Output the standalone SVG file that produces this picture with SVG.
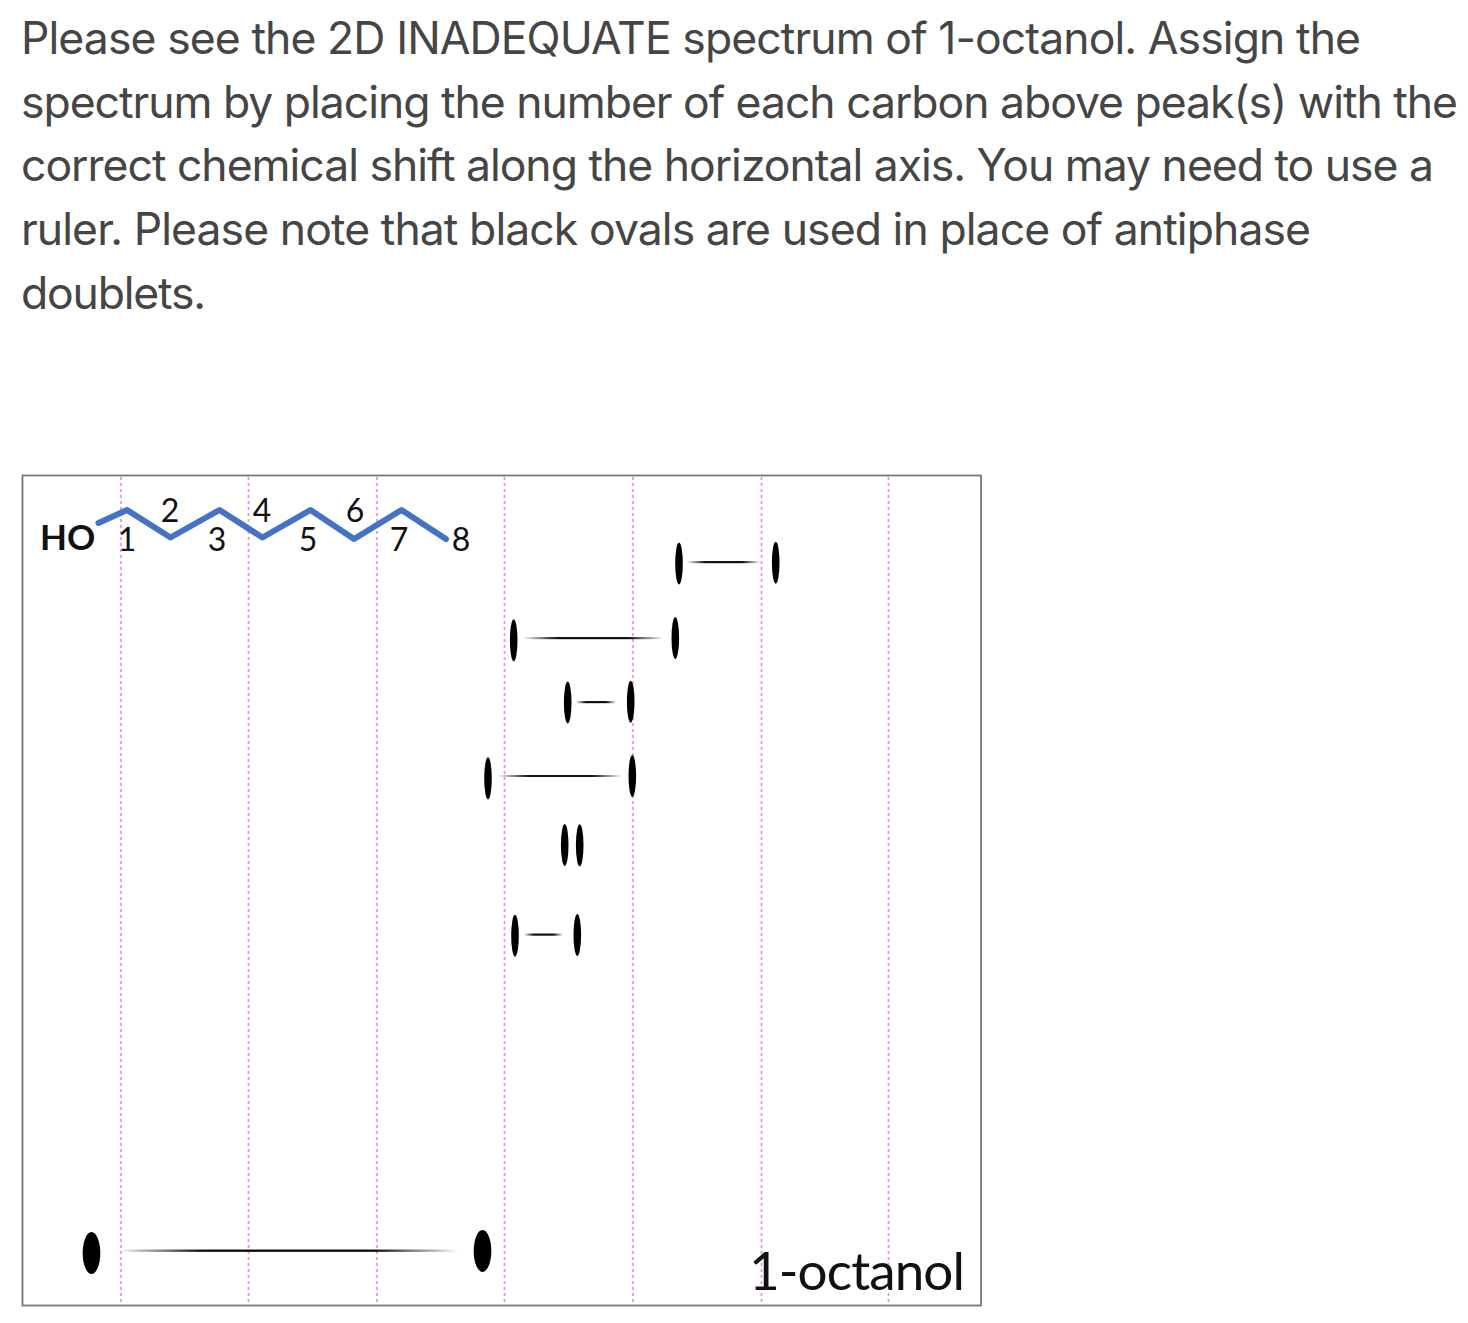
<svg xmlns="http://www.w3.org/2000/svg" width="1468" height="1323" viewBox="0 0 1468 1323">
<style>
.q{font-family:"Inter","Liberation Sans",sans-serif;font-size:44.5px;fill:#454545}
.n{font-family:"Lato","Liberation Sans",sans-serif;font-size:32px;fill:#111;text-anchor:middle}
.g{stroke:#e88fe4;stroke-width:1.7;stroke-dasharray:3 3;fill:none}
.o{fill:#000}
</style>
<defs>
<linearGradient id="fade"><stop offset="0" stop-color="#000" stop-opacity="0"/><stop offset=".25" stop-color="#111"/><stop offset=".75" stop-color="#111"/><stop offset="1" stop-color="#000" stop-opacity="0"/></linearGradient>
</defs>
<rect width="1468" height="1323" fill="#fff"/>
<g id="question">
<text class="q" x="21" y="54" textLength="1340" lengthAdjust="spacing">Please see the 2D INADEQUATE spectrum of 1-octanol. Assign the</text>
<text class="q" x="21" y="118" textLength="1437" lengthAdjust="spacing">spectrum by placing the number of each carbon above peak(s) with the</text>
<text class="q" x="21" y="181" textLength="1413" lengthAdjust="spacing">correct chemical shift along the horizontal axis. You may need to use a</text>
<text class="q" x="21" y="245" textLength="1290" lengthAdjust="spacing">ruler. Please note that black ovals are used in place of antiphase</text>
<text class="q" x="21" y="309" textLength="185" lengthAdjust="spacing">doublets.</text>
</g>
<g id="frame"><rect x="22.500" y="475.500" width="958.500" height="830" fill="#fff" stroke="#777" stroke-width="1.800"/></g>
<g id="gridlines">
<path class="g" d="M121 477V1305M248.500 477V1305M377 477V1305M504.500 477V1305M633 477V1305M761.500 477V1305M888.500 477V1305"/>
</g>
<g id="molecule">
<polyline points="98.500,523 127,510 170.500,537.500 219.500,510 262.500,537.500 310.500,510 354,539 401.500,510 446,539" fill="none" stroke="#4472c4" stroke-width="6" stroke-linecap="round" stroke-linejoin="round"/>
<text x="40" y="550" font-family="'Lato','Liberation Sans',sans-serif" font-size="35" font-weight="700" fill="#111">HO</text>
<text class="n" x="127" y="551">1</text>
<text class="n" x="170" y="522">2</text>
<text class="n" x="217" y="551">3</text>
<text class="n" x="262" y="522">4</text>
<text class="n" x="308" y="551">5</text>
<text class="n" x="355" y="522">6</text>
<text class="n" x="399" y="551">7</text>
<text class="n" x="461" y="551">8</text>
</g>
<g id="connectors" fill="url(#fade)">
<rect x="687" y="561" width="73" height="2.200"/>
<rect x="523" y="637" width="140" height="2.200"/>
<rect x="576" y="701" width="40" height="2.200"/>
<rect x="498" y="775" width="124" height="2"/>
<rect x="524" y="933.500" width="39" height="2.200"/>
<rect x="118" y="1249.500" width="340" height="2.400"/>
</g>
<g id="peak-row-1"><ellipse class="o" cx="679" cy="563.500" rx="3.800" ry="21"/><ellipse class="o" cx="775.700" cy="562.700" rx="3.800" ry="21"/></g>
<g id="peak-row-2"><ellipse class="o" cx="513.700" cy="640.300" rx="3.800" ry="21"/><ellipse class="o" cx="675.300" cy="638" rx="3.800" ry="21"/></g>
<g id="peak-row-3"><ellipse class="o" cx="567.700" cy="702.500" rx="3.800" ry="21"/><ellipse class="o" cx="630.700" cy="701.700" rx="3.800" ry="21"/></g>
<g id="peak-row-4"><ellipse class="o" cx="488" cy="778.300" rx="3.800" ry="21"/><ellipse class="o" cx="632.300" cy="776" rx="3.800" ry="21"/></g>
<g id="peak-row-5"><ellipse class="o" cx="564.700" cy="845" rx="3.800" ry="21"/><ellipse class="o" cx="579.700" cy="845.300" rx="3.800" ry="21"/></g>
<g id="peak-row-6"><ellipse class="o" cx="515" cy="935.700" rx="3.800" ry="21"/><ellipse class="o" cx="577.300" cy="935" rx="3.800" ry="21"/></g>
<g id="peak-row-7"><ellipse class="o" cx="91.500" cy="1253" rx="8.800" ry="21"/><ellipse class="o" cx="482.500" cy="1251" rx="8.800" ry="21"/></g>
<g id="caption"><text x="749" y="1290" font-family="'Lato','Liberation Sans',sans-serif" font-size="53" fill="#111" textLength="216" lengthAdjust="spacing">1-octanol</text></g>
</svg>
